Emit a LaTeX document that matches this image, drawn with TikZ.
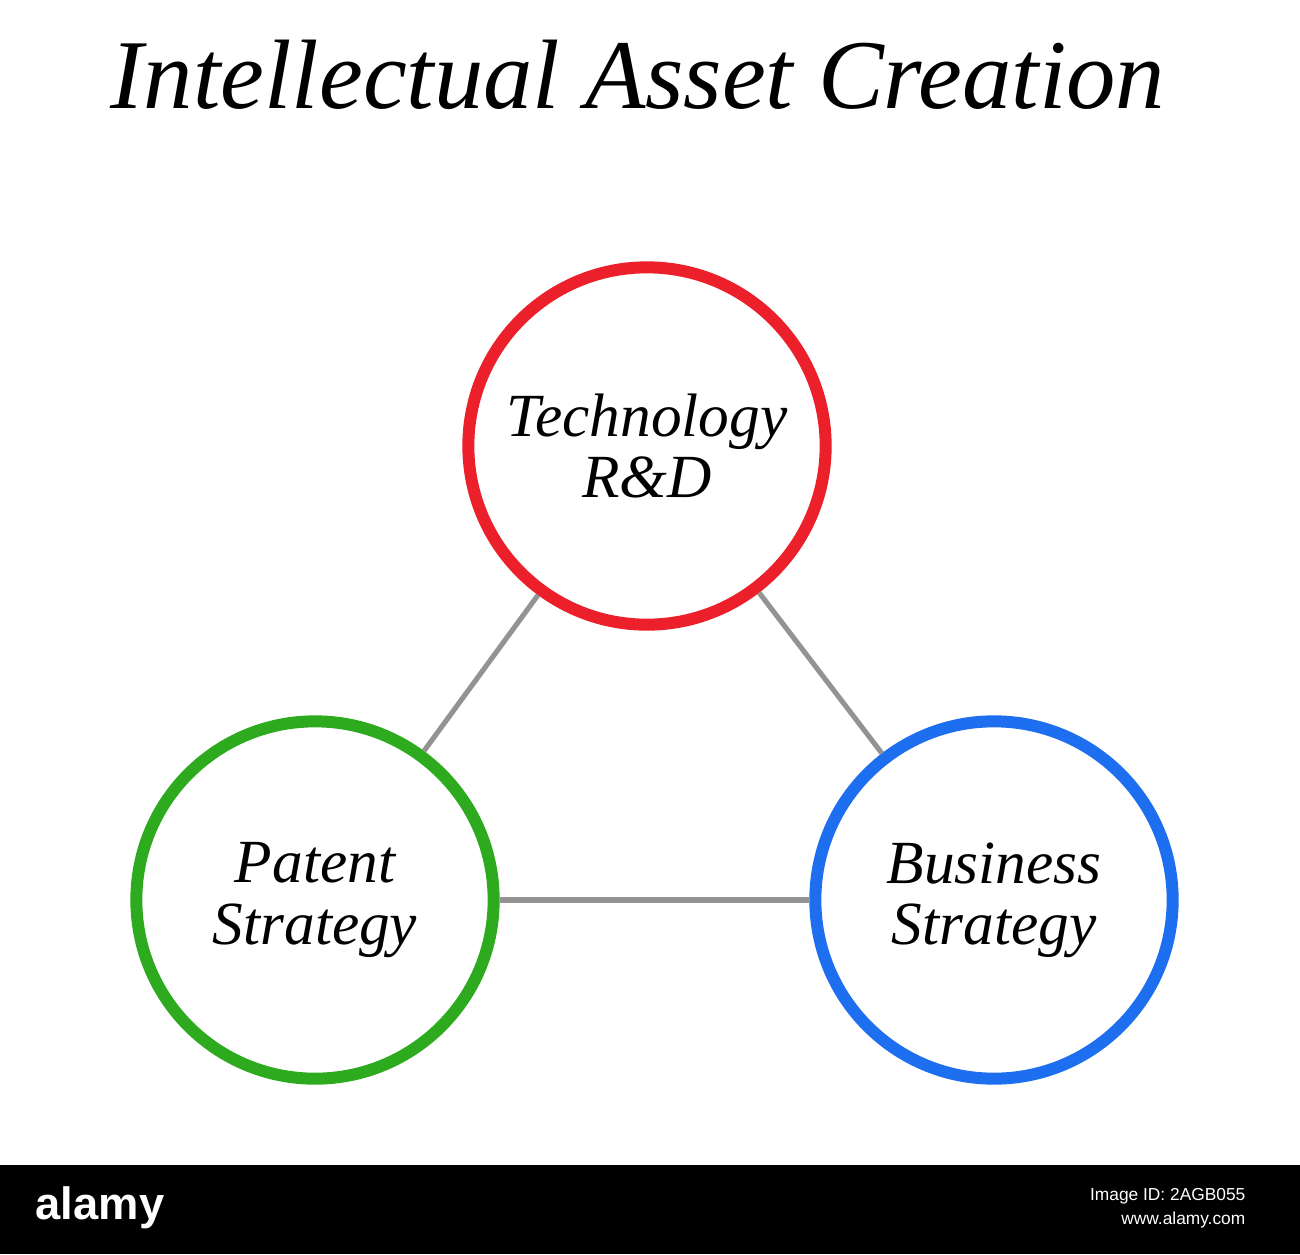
\documentclass[tikz,border=0pt]{standalone}
\usepackage{fontspec}
\setmainfont{Liberation Serif}
\newfontfamily\wmfont{Liberation Sans}
\begin{document}
\begin{tikzpicture}[x=0.75pt,y=-0.75pt,
  ring/.style={circle,draw,line width=9pt,minimum size=268pt,inner sep=0pt,align=center,font=\itshape\fontsize{46}{46}\selectfont},
  link/.style={draw=gray!85,line width=3.8pt}]
\useasboundingbox (0,0) rectangle (1300,1254);
\fill[white] (0,0) rectangle (1300,1254);
\node (title) at (638,75) {\itshape\fontsize{74}{80}\selectfont Intellectual Asset Creation};
\node[ring,draw={rgb,255:red,236;green,32;blue,42}] (tech) at (647,446) {Technology\\R\&D};
\node[ring,draw={rgb,255:red,46;green,170;blue,30}] (pat) at (315,900) {Patent\\Strategy};
\node[ring,draw={rgb,255:red,30;green,110;blue,240}] (bus) at (994,900) {Business\\Strategy};
\draw[link] (tech) -- (pat);
\draw[link] (tech) -- (bus);
\draw[link] (pat.east) -- (bus.west);
\fill[black] (0,1165) rectangle (1300,1254);
\node[white,font=\wmfont\bfseries\fontsize{34}{36}\selectfont] (wm) at (100,1208) {alamy};
\node[white,font=\wmfont\fontsize{13}{15}\selectfont,anchor=east] (id) at (1250,1196) {Image ID: 2AGB055};
\node[white,font=\wmfont\fontsize{13}{15}\selectfont,anchor=east] (url) at (1250,1220) {www.alamy.com};
\end{tikzpicture}
\end{document}
